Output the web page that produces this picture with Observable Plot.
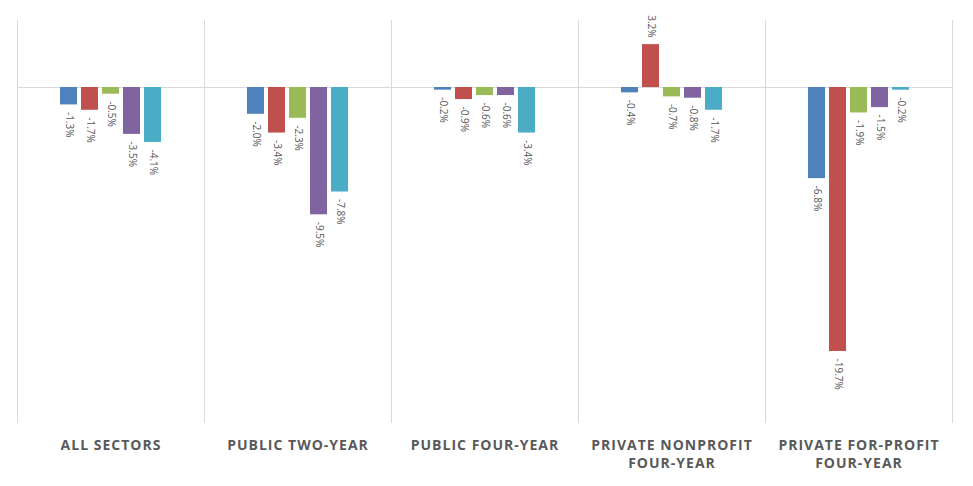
<!DOCTYPE html>
<html>
<head>
<meta charset="utf-8">
<script src="https://cdn.jsdelivr.net/npm/d3@7"></script>
<script src="https://cdn.jsdelivr.net/npm/@observablehq/plot@0.6"></script>
<style>
  html, body { margin: 0; padding: 0; background: #fff; }
  #chart svg { display: block; font-family: "Open Sans", sans-serif; }
</style>
</head>
<body>
<div id="chart"></div>
<script>
const sectors = ["All Sectors", "Public Two-Year", "Public Four-Year", "Private Nonprofit Four-Year", "Private For-Profit Four-Year"];
const sectorLabels = ["ALL SECTORS", "PUBLIC TWO-YEAR", "PUBLIC FOUR-YEAR", "PRIVATE NONPROFIT\nFOUR-YEAR", "PRIVATE FOR-PROFIT\nFOUR-YEAR"];
const series = ["Series 1", "Series 2", "Series 3", "Series 4", "Series 5"];
const colors = ["#4F81BD", "#C0504D", "#9BBB59", "#8064A2", "#4BACC6"];

const allSectors       = [-1.3, -1.7, -0.5, -3.5, -4.1];
const publicTwoYear    = [-2.0, -3.4, -2.3, -9.5, -7.8];
const publicFourYear   = [-0.2, -0.9, -0.6, -0.6, -3.4];
const privateNonprofit = [-0.4, 3.2, -0.7, -0.8, -1.7];
const privateForProfit = [-6.8, -19.7, -1.9, -1.5, -0.2];

const valuesBySector = [allSectors, publicTwoYear, publicFourYear, privateNonprofit, privateForProfit];

const data = [];
sectors.forEach((s, i) => {
  series.forEach((k, j) => {
    data.push({sector: s, series: k, value: valuesBySector[i][j]});
  });
});

const fmt = d => d.value.toFixed(1) + "%";
const labelMap = new Map(sectors.map((s, i) => [s, sectorLabels[i]]));
const gridColor = "#d9d9d9";
const textColor = "#595959";

const chart = Plot.plot({
  width: 973,
  height: 486,
  marginLeft: 16,
  marginRight: 21,
  marginTop: 20,
  marginBottom: 64,
  fx: {domain: sectors, padding: 0, axis: null, label: null},
  x: {domain: series, paddingInner: 0.19, paddingOuter: 1.85, axis: null},
  y: {domain: [-25, 5], axis: null},
  color: {domain: series, range: colors},
  marks: [
    Plot.frame({anchor: "left", stroke: gridColor}),
    Plot.frame({anchor: "right", stroke: gridColor}),
    Plot.ruleY([0], {stroke: gridColor, strokeWidth: 1.2}),
    Plot.barY(data, {fx: "sector", x: "series", y: "value", fill: "series"}),
    Plot.text(data.filter(d => d.value < 0), {
      fx: "sector", x: "series", y: "value", text: fmt,
      rotate: 90, textAnchor: "start", dy: 7, fontSize: 10, fill: textColor
    }),
    Plot.text(data.filter(d => d.value >= 0), {
      fx: "sector", x: "series", y: "value", text: fmt,
      rotate: 90, textAnchor: "end", dy: -7, fontSize: 10, fill: textColor
    }),
    Plot.axisFx({
      anchor: "bottom", tickSize: 0, tickPadding: 14, label: null,
      tickFormat: s => labelMap.get(s),
      fontSize: 14, fontWeight: "bold", fill: textColor, lineHeight: 1.33
    })
  ]
});

d3.select(chart).selectAll('[aria-label="fx-axis tick label"] text').attr("letter-spacing", 1);
document.getElementById("chart").appendChild(chart);
</script>
</body>
</html>
